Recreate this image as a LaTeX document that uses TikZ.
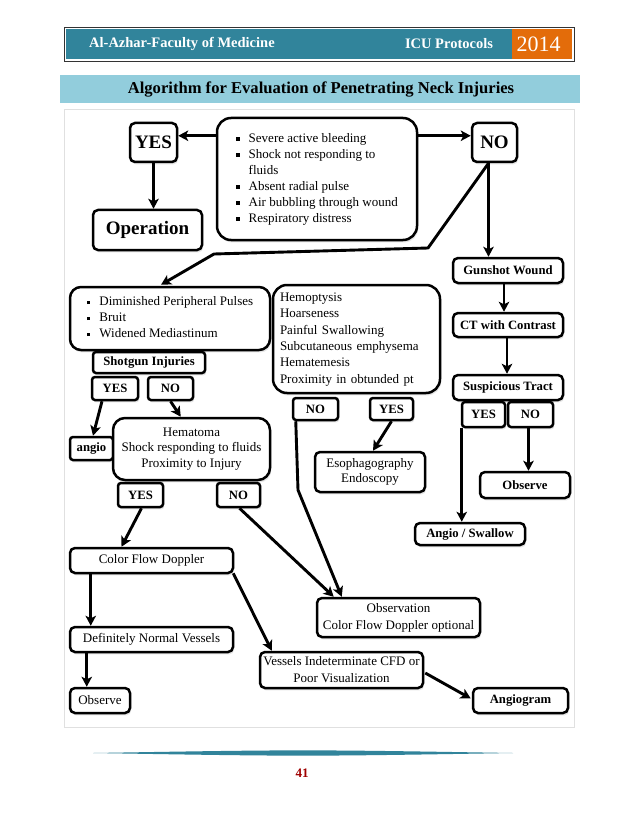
\documentclass[tikz,border=0pt]{standalone}
\usepackage{fontspec}
\setmainfont{Liberation Serif}
\usetikzlibrary{arrows.meta,shadows,calc}
\definecolor{hdr}{HTML}{31849B}
\definecolor{org}{HTML}{E36C0A}
\definecolor{ttl}{HTML}{92CDDC}
\definecolor{pgred}{HTML}{A00000}
\newcommand\sqbul{\raisebox{0.25ex}{\rule{3.6pt}{3.6pt}}}
\newcommand\fsz[2]{\fontsize{#1}{#2}\selectfont}
\begin{document}
\begin{tikzpicture}[x=1pt,y=-1pt,
  box/.style={draw, line width=2.5pt, rounded corners=5pt, fill=white, inner sep=0pt, align=center,
    drop shadow={shadow xshift=1.2pt,shadow yshift=-2.4pt,fill=black!20}},
  rbox/.style={box, rounded corners=14pt},
  nrm/.style={font=\fsz{13}{16}},
  bld/.style={font=\fsz{12.7}{15}\bfseries},
  bigb/.style={font=\fsz{19}{22}\bfseries},
  arr/.style={line width=2.9pt, line join=round, -{Stealth[length=10pt,width=10.5pt,inset=2.5pt]}},
  hdrtxt/.style={font=\fsz{14.5}{16}\bfseries, text=white}
]
\useasboundingbox (0,0) rectangle (638,826);
\fill[white] (0,0) rectangle (638,826);

% header
\draw[line width=0.8pt, black!80] (64,27) rectangle (574,61);
\fill[hdr] (66,29) rectangle (512,59);
\fill[org] (512,29) rectangle (572,59);
\node[hdrtxt, anchor=west, inner sep=0pt] (h1) at (89,44) {Al-Azhar-Faculty of Medicine};
\node[hdrtxt, inner sep=0pt] (h2) at (449,44) {ICU Protocols};
\node[font=\fsz{22}{24}, text=white, inner sep=0pt] (h3) at (538.5,44.5) {2014};

% title
\fill[ttl] (60,75) rectangle (580,103);
\node[font=\fsz{16.6}{18}\bfseries, inner sep=0pt] (title) at (321,89) {Algorithm for Evaluation of Penetrating Neck Injuries};

% diagram frame
\draw[black!12, line width=1pt] (64,110) rectangle (574,727);

% top row
\node[box, bigb, minimum width=47pt, minimum height=39pt] (yes1) at (153.5,142.5) {YES};
\node[box, bigb, minimum width=109pt, minimum height=40pt] (op) at (147.5,230) {Operation};
\node[rbox, nrm, minimum width=200pt, minimum height=122pt] (crit) at (317,179) {%
  \begin{tabular}{@{}l@{\hspace{9pt}}l@{}}
  \sqbul & Severe active bleeding\\
  \sqbul & Shock not responding to\\
         & fluids\\
  \sqbul & Absent radial pulse\\
  \sqbul & Air bubbling through wound\\
  \sqbul & Respiratory distress
  \end{tabular}};
\node[box, bigb, minimum width=45pt, minimum height=39pt] (no1) at (494.5,142.5) {NO};

% left branch
\node[rbox, nrm, rounded corners=11pt, minimum width=200pt, minimum height=63pt] (dim) at (170,318.5) {%
  \begin{tabular}{@{}l@{\hspace{9pt}}l@{}}
  \sqbul & Diminished Peripheral Pulses\\
  \sqbul & Bruit\\
  \sqbul & Widened Mediastinum
  \end{tabular}};
\node[box, bld, rounded corners=3pt, minimum width=112pt, minimum height=21pt] (shot) at (149,362.5) {Shotgun Injuries};
\node[box, bld, rounded corners=3pt, minimum width=46pt, minimum height=23pt] (yes2) at (115,388.5) {YES};
\node[box, bld, rounded corners=3pt, minimum width=45pt, minimum height=23pt] (no2) at (170.5,388.5) {NO};
\node[box, bld, rounded corners=3pt, minimum width=43pt, minimum height=23pt] (angio) at (91.5,448.5) {angio};
\node[rbox, font=\fsz{13}{15.5}, rounded corners=12pt, minimum width=157pt, minimum height=62pt] (hema) at (191.5,449) {Hematoma\\Shock responding to fluids\\Proximity to Injury};
\node[box, bld, rounded corners=3pt, minimum width=45pt, minimum height=24pt] (yes3) at (140.5,495) {YES};
\node[box, bld, rounded corners=3pt, minimum width=43pt, minimum height=24pt] (no3) at (238.5,495) {NO};
\node[box, nrm, minimum width=163pt, minimum height=25pt] (cfd) at (151.5,560.5) {Color Flow Doppler};
\node[box, nrm, minimum width=163pt, minimum height=25pt] (dnv) at (151.5,639.5) {Definitely Normal Vessels};
\node[box, nrm, minimum width=60pt, minimum height=25pt] (obs1) at (100,700.5) {Observe};
\node[box, font=\fsz{13}{17}, minimum width=163pt, minimum height=36pt] (vi) at (341.5,670) {Vessels Indeterminate CFD or\\Poor Visualization};
\node[box, bld, minimum width=95pt, minimum height=25pt] (angiogram) at (520.5,700.5) {Angiogram};
\node[box, font=\fsz{13}{17}, minimum width=163pt, minimum height=39pt] (obsv) at (398.5,617.5) {Observation\\Color Flow Doppler optional};

% middle branch
\node[rbox, font=\fsz{13}{16.4}, text width=153pt, align=left, minimum width=167pt, minimum height=108pt] (sym) at (356.5,339) {%
  \begin{tabular}{@{}l@{}}
  Hemoptysis\\
  Hoarseness\\
  Painful Swallowing\\
  Subcutaneous emphysema\\
  Hematemesis\\
  Proximity in obtunded pt
  \end{tabular}};
\node[box, bld, rounded corners=3pt, minimum width=45pt, minimum height=22pt] (no4) at (315.5,409) {NO};
\node[box, bld, rounded corners=3pt, minimum width=43pt, minimum height=22pt] (yes4) at (391.5,409) {YES};
\node[box, font=\fsz{13}{15}, minimum width=110pt, minimum height=40pt] (eso) at (370,472) {Esophagography\\Endoscopy};

% right branch
\node[box, bld, minimum width=110pt, minimum height=25pt] (gw) at (508,270.5) {Gunshot Wound};
\node[box, bld, minimum width=110pt, minimum height=24pt] (ct) at (508,325) {CT with Contrast};
\node[box, bld, minimum width=110pt, minimum height=25pt] (st) at (508,387.5) {Suspicious Tract};
\node[box, bld, rounded corners=3pt, minimum width=43pt, minimum height=25pt] (yes5) at (483.5,414.5) {YES};
\node[box, bld, rounded corners=3pt, minimum width=45pt, minimum height=25pt] (no5) at (530.5,414.5) {NO};
\node[box, bld, minimum width=90pt, minimum height=26pt] (obs2) at (525,485) {Observe};
\node[box, bld, minimum width=110pt, minimum height=22pt] (as) at (470,534) {Angio / Swallow};

% connectors
\draw[arr] ($(crit.north west)+(0,19)$) -- ($(yes1.north east)+(0,14)$);
\draw[arr] ($(crit.north east)+(0,19)$) -- ($(no1.north west)+(0,14)$);
\draw[arr] (yes1.south) -- (yes1.south |- op.north);
\coordinate (nost) at ($(no1.south)+(-6,0)$);
\draw[arr] (nost) -- (nost |- gw.north);
\coordinate (b1) at (428,248);
\coordinate (b2) at (214,254);
\draw[arr] (nost) -- (b1) -- (b2) -- ($(dim.north)+(-9,-1)$);
\draw[arr] ($(gw.south)+(-4,0)$) -- ($(ct.north)+(-4,0)$);
\draw[arr] ($(ct.south)+(-1,0)$) -- ($(st.north)+(-1,0)$);
\coordinate (s5) at ($(no5.south)+(-2,0)$);
\draw[arr] (s5) -- (s5 |- obs2.north);
\coordinate (s6) at ($(yes5.south west)+(1,0)$);
\draw[arr] (s6) -- (s6 |- as.north);
\draw[arr] ($(yes2.south)+(-13,0)$) -- ($(angio.north)+(1.5,0)$);
\draw[arr] (no2.south) -- ($(hema.north west)+(69,0)$);
\draw[arr] (yes4.south) -- ($(eso.north)+(3,0)$);
\coordinate (b3) at (298,490);
\draw[arr] ($(no4.south west)+(4,0)$) -- (b3) -- ($(obsv.north west)+(26,0)$);
\draw[arr] ($(no3.south)+(1,0)$) -- ($(obsv.north west)+(18,0)$);
\draw[arr] ($(yes3.south)+(1,0)$) -- ($(cfd.north)+(-30,0)$);
\coordinate (s7) at ($(cfd.south west)+(22,0)$);
\draw[arr] (s7) -- (s7 |- dnv.north);
\coordinate (s8) at ($(dnv.south west)+(18,0)$);
\draw[arr] (s8) -- (s8 |- obs1.north);
\draw[arr] ($(cfd.south east)+(-1,-1)$) -- ($(vi.north west)+(13,0)$);
\draw[arr] ($(vi.east)+(1,3)$) -- ($(angiogram.west)+(-1,-2)$);

% footer
\fill[hdr] (93,753) .. controls (303,749.5) .. (513,753) .. controls (303,756.5) .. (93,753) -- cycle;
\node[font=\fsz{13}{15}\bfseries, text=pgred, inner sep=0pt] (pg) at (302,773) {41};
\end{tikzpicture}
\end{document}
